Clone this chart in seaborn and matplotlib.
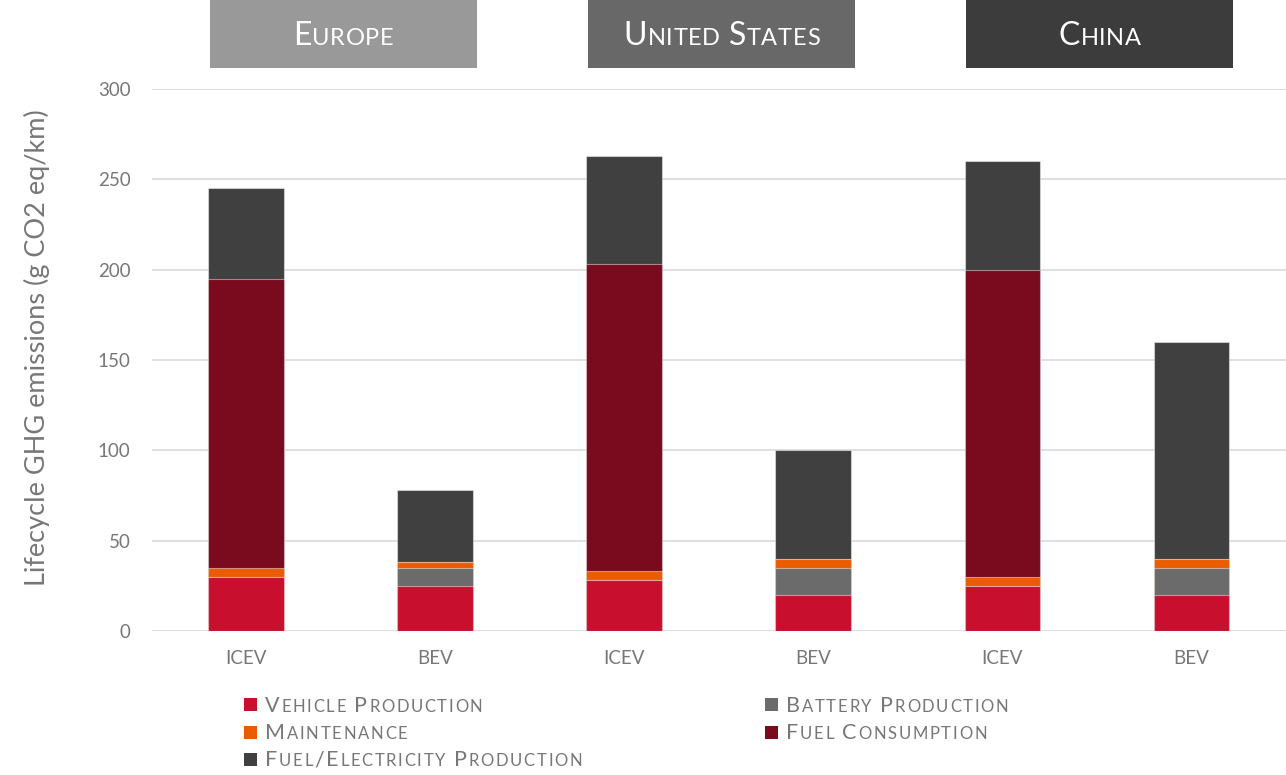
import numpy as np
import pandas as pd
import matplotlib
matplotlib.use("Agg")
import matplotlib.pyplot as plt
import matplotlib.transforms as mtransforms
from matplotlib.patches import Rectangle
import seaborn as sns

# ---------------- data ----------------
regions = ["Europe", "United States", "China"]
vehicles = ["ICEV", "BEV"]
components = ["Vehicle Production", "Battery Production", "Maintenance",
              "Fuel Consumption", "Fuel/Electricity Production"]
vehicle_production = [30, 25, 28, 20, 25, 20]
battery_production = [0, 10, 0, 15, 0, 15]
maintenance = [5, 3, 5, 5, 5, 5]
fuel_consumption = [160, 0, 170, 0, 170, 0]
fuel_electricity_production = [50, 40, 60, 60, 60, 120]
y_ticks = [0, 50, 100, 150, 200, 250, 300]
y_label = "Lifecycle GHG emissions (g CO2 eq/km)"

colors = {"Vehicle Production": "#c8102e",
          "Battery Production": "#6b6b6b",
          "Maintenance": "#eb5c00",
          "Fuel Consumption": "#7a0a1e",
          "Fuel/Electricity Production": "#404040"}
region_colors = ["#999999", "#686868", "#3c3c3c"]

keys = [f"{r} {v}" for r in regions for v in vehicles]
layers = [vehicle_production, battery_production, maintenance,
          fuel_consumption, fuel_electricity_production]
cum = np.cumsum(np.array(layers, dtype=float), axis=0)

df = pd.DataFrame({"key": keys})
for comp, c in zip(components, cum):
    df[comp] = c

# ---------------- style ----------------
sns.set_style("white")
plt.rcParams["font.family"] = ["Lato", "DejaVu Sans"]
GREY = "#777777"

W, H = 1286, 775
fig = plt.figure(figsize=(W / 100, H / 100), dpi=100)
ax = fig.add_axes([151.5 / W, 1 - 631 / H, (1286 - 151.5) / W, (631 - 89) / H])

for comp in components[::-1]:
    sns.barplot(data=df, x="key", y=comp, order=keys, color=colors[comp],
                width=0.4, errorbar=None, saturation=1, ax=ax,
                edgecolor=(1, 1, 1, 0.45), linewidth=0.8, zorder=3)

ax.set_xlim(-0.5, 5.5)
ax.set_ylim(0, 300)
ax.set_yticks(y_ticks)
ax.set_xticks(range(len(keys)))
ax.set_xticklabels(vehicles * len(regions))
ax.tick_params(axis="both", length=0, labelsize=13.5, labelcolor=GREY)
ax.tick_params(axis="x", pad=14)
ax.tick_params(axis="y", pad=15)
ax.grid(axis="y", color="#dadada", linewidth=1.2, zorder=0)
ax.set_axisbelow(True)
for s in ax.spines.values():
    s.set_visible(False)
ax.set_xlabel("")
ax.set_ylabel(y_label, fontsize=19.5, color=GREY)
ax.yaxis.set_label_coords((36.5 - 151.5) / (1286 - 151.5), (631 - 348) / 542)
ax.yaxis.label.set_va("center")

# ---------------- small caps helper ----------------
renderer = fig.canvas.get_renderer()


def smallcaps(x_px, y_base_px, s, big, small, color, family, track=0.0, ha="left"):
    pieces = []
    for ch in s:
        if ch == " ":
            pieces.append((None, small * 0.32 * 100 / 72))
            continue
        if ch.islower():
            t = fig.text(0, 0, ch.upper(), fontsize=small, color=color,
                         family=family, va="baseline", ha="left")
        else:
            t = fig.text(0, 0, ch, fontsize=big, color=color,
                         family=family, va="baseline", ha="left")
        pieces.append((t, t.get_window_extent(renderer).width))
    total = sum(w for _, w in pieces) + track * (len(pieces) - 1)
    cur = x_px - total / 2 if ha == "center" else x_px
    for t, w in pieces:
        if t is not None:
            t.set_position((cur / W, 1 - y_base_px / H))
        cur += w + track
    return total


# ---------------- region headers ----------------
blend = mtransforms.blended_transform_factory(ax.transData, fig.transFigure)
for i, (reg, col) in enumerate(zip(regions, region_colors)):
    x0 = 2 * i - 0.19
    x1 = 2 * i + 1.22
    ax.add_patch(Rectangle((x0, 1 - 68 / H), x1 - x0, 68 / H, transform=blend,
                           facecolor=col, edgecolor="none", clip_on=False, zorder=5))
    xc_px = ax.transData.transform(((x0 + x1) / 2, 0))[0]
    smallcaps(xc_px, 45, reg, 23, 17, "white",
              ["Lato", "DejaVu Sans"], track=0.6, ha="center")

# ---------------- legend ----------------
legend_items = [("Vehicle Production", 244, 711.5),
                ("Battery Production", 765, 711.5),
                ("Maintenance", 244, 739),
                ("Fuel Consumption", 765, 739),
                ("Fuel/Electricity Production", 244, 766.5)]
sq = 13
for name, xs, yb in legend_items:
    fig.patches.append(Rectangle((xs / W, 1 - (yb - 0.5) / H), sq / W, sq / H,
                                 transform=fig.transFigure, figure=fig,
                                 facecolor=colors[name], edgecolor="none"))
    smallcaps(xs + 21, yb, name, 15.5, 12, GREY, ["Lato", "DejaVu Sans"], track=1.7)

fig.savefig("out.png", dpi=100, facecolor="white")
